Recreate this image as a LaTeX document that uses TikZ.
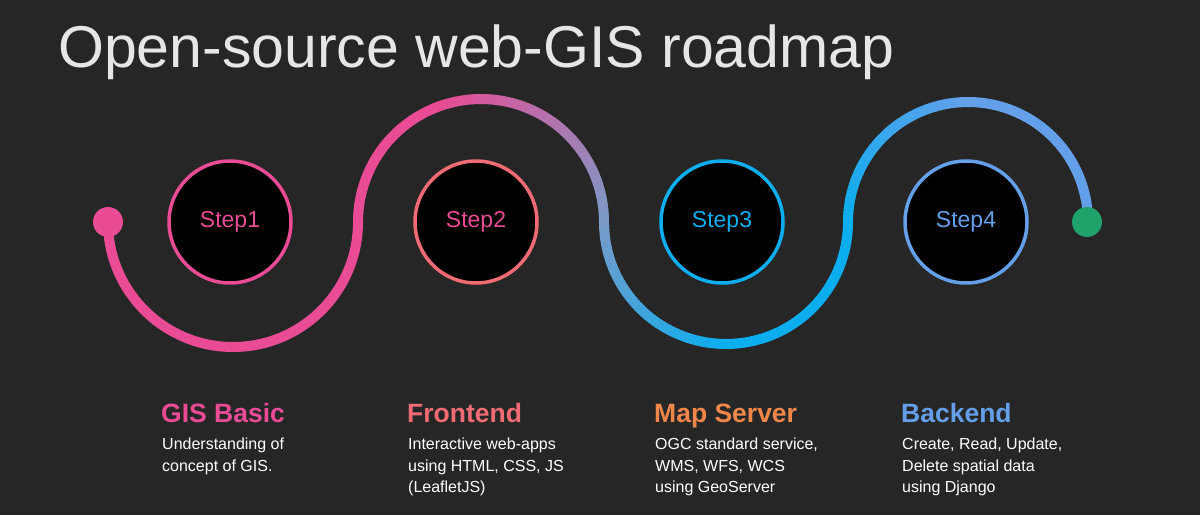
\documentclass[tikz,border=0pt]{standalone}
\usepackage{fontspec}
\setmainfont{Liberation Sans}
\definecolor{bg}{HTML}{262626}
\definecolor{cpink}{HTML}{E94B94}
\definecolor{ccoral}{HTML}{F06B73}
\definecolor{ccyan}{HTML}{0AAEEF}
\definecolor{clblue}{HTML}{64A0EA}
\definecolor{cmid}{HTML}{7A9BC8}
\definecolor{corange}{HTML}{F0864A}
\definecolor{cgreen}{HTML}{1FA36B}
\definecolor{ctitle}{HTML}{E6E6E6}
\begin{document}
\begin{tikzpicture}[x=1pt,y=1pt,
  stepc/.style={circle,draw,line width=3.5pt,fill=black,minimum size=122pt,font=\fontsize{23}{26}\selectfont},
  head/.style={anchor=base west,inner sep=0pt,font=\bfseries\fontsize{26.5}{30}\selectfont},
  desc/.style={anchor=north west,align=left,text=white,font=\fontsize{16}{21.5}\selectfont,inner sep=0pt},
  seg/.style={line width=10pt}]
\fill[bg] (0,0) rectangle (1200,515);
\useasboundingbox (0,0) rectangle (1200,515);
\node[anchor=base west,text=ctitle,font=\fontsize{59}{66}\selectfont,inner sep=0pt] (title) at (58,447) {Open-source web-GIS roadmap};
% arc1
\draw[seg,cpink] (108,293) arc[start angle=180,end angle=360,radius=125];
% arc2
\foreach \a in {180,178,...,2}{
  \pgfmathtruncatemacro\p{min(100,\a/110*100)}
  \draw[seg,cpink!\p!cmid] ({481+123*cos(\a)},{293+123*sin(\a)}) arc[start angle=\a,end angle=\a-2.3,radius=123];
}
% arc3
\foreach \a in {180,182,...,358}{
  \pgfmathtruncatemacro\p{max(0,100-(\a-180)/90*100)}
  \draw[seg,cmid!\p!ccyan] ({726+122*cos(\a)},{293+122*sin(\a)}) arc[start angle=\a,end angle=\a+2.3,radius=122];
}
% arc4
\foreach \a in {180,178,...,2}{
  \pgfmathtruncatemacro\p{max(0,(\a-90)/90*100)}
  \draw[seg,ccyan!\p!clblue] ({968+120*cos(\a)},{293+120*sin(\a)}) arc[start angle=\a,end angle=\a-2.3,radius=120];
}
\fill[cpink] (108,293) circle (15) node (start) {};
\fill[cgreen] (1087,293) circle (15) node (end) {};
\node[stepc,draw=cpink,text=cpink] (s1) at (230,293) {Step1};
\node[stepc,draw=ccoral,text=cpink] (s2) at (476,293) {Step2};
\node[stepc,draw=ccyan,text=ccyan] (s3) at (722,293) {Step3};
\node[stepc,draw=clblue,text=clblue] (s4) at (966,293) {Step4};
\node[head,text=cpink] (h1) at (161,93) {GIS Basic};
\node[head,text=ccoral] (h2) at (407,93) {Frontend};
\node[head,text=corange] (h3) at (654,93) {Map Server};
\node[head,text=clblue] (h4) at (901,93) {Backend};
\node[desc] (d1) at (162,77) {Understanding of\\concept of GIS.};
\node[desc] (d2) at (408,77) {Interactive web-apps\\using HTML, CSS, JS\\(LeafletJS)};
\node[desc] (d3) at (655,77) {OGC standard service,\\WMS, WFS, WCS\\using GeoServer};
\node[desc] (d4) at (902,77) {Create, Read, Update,\\Delete spatial data\\using Django};
\end{tikzpicture}
\end{document}
